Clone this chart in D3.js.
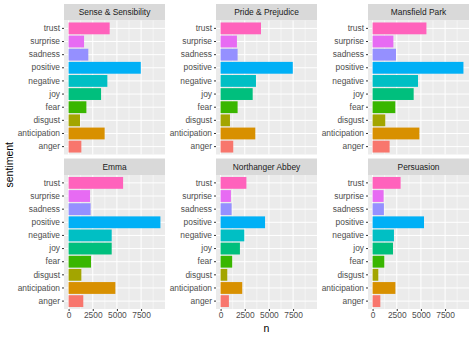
<!DOCTYPE html>
<html>
<head>
<meta charset="utf-8">
<script src="https://cdn.jsdelivr.net/npm/d3@7"></script>
<style>
  body { margin: 0; background: #fff; }
  svg { display: block; }
</style>
</head>
<body>
<div class="chart"></div>
<script>
const w = 474,
      h = 338

// sentiment levels, top of each panel first
const sentiments = ['trust','surprise','sadness','positive','negative','joy','fear','disgust','anticipation','anger']
const books = ['Sense & Sensibility','Pride & Prejudice','Mansfield Park','Emma','Northanger Abbey','Persuasion']

// counts per book, same order as sentiments
const senseSensibility = [4250, 1600, 2040, 7470, 4010, 3360, 1840, 1180, 3730, 1320]
const pridePrejudice   = [4180, 1690, 1760, 7470, 3660, 3320, 1760,  970, 3590, 1310]
const mansfieldPark    = [5570, 2150, 2420, 9400, 4700, 4250, 2350, 1310, 4840, 1760]
const emma             = [5640, 2220, 2280, 9500, 4460, 4460, 2320, 1320, 4840, 1520]
const northangerAbbey  = [2670, 1070, 1140, 4600, 2450, 2000, 1200,  690, 2240,  860]
const persuasion       = [2900, 1140, 1170, 5320, 2210, 2110, 1210,  590, 2360,  800]

const xTicks = [0, 2500, 5000, 7500]
const xMinor = [1250, 3750, 6250, 8750]

const colors = {
  anger: '#F8766D', anticipation: '#D89000', disgust: '#A3A500', fear: '#39B600',
  joy: '#00BF7D', negative: '#00BFC4', positive: '#00B0F6', sadness: '#9590FF',
  surprise: '#E76BF3', trust: '#FF62BC'
}

const series = [senseSensibility, pridePrejudice, mansfieldPark, emma, northangerAbbey, persuasion]

const panelW = 101,
      panelH = 134,
      stripH = 16.5,
      colX = [64, 216, 368],
      rowY = [20.5, 175]

const font = '"Liberation Sans", Arial, Helvetica, sans-serif'

const svg = d3.select('.chart')
              .append('svg')
              .attr('width', w)
              .attr('height', h)
              .style('font-family', font)

const maxN = d3.max(series, (s) => d3.max(s))
const xScale = d3.scaleLinear()
                 .domain([-0.05 * maxN, 1.05 * maxN])
                 .range([0, panelW])
const yScale = d3.scaleBand()
                 .domain(sentiments)
                 .range([0, panelH])
                 .paddingInner(0.1)
                 .paddingOuter(0.15)

books.forEach((book, i) => {
  const col = i % 3,
        row = Math.floor(i / 3)
  const g = svg.append('g')
               .attr('transform', `translate(${colX[col]},${rowY[row]})`)

  // strip
  g.append('rect')
   .attr('x', 0).attr('y', -stripH)
   .attr('width', panelW).attr('height', stripH)
   .attr('fill', '#D9D9D9')
  g.append('text')
   .text(book)
   .attr('x', panelW / 2).attr('y', -stripH / 2)
   .attr('dy', '0.35em')
   .attr('text-anchor', 'middle')
   .attr('font-size', '8.4px')
   .attr('fill', '#1A1A1A')

  // panel background and grid
  g.append('rect')
   .attr('width', panelW).attr('height', panelH)
   .attr('fill', '#EBEBEB')
  g.selectAll('.minor')
   .data(xMinor)
   .enter()
   .append('line')
   .attr('x1', (d) => xScale(d)).attr('x2', (d) => xScale(d))
   .attr('y1', 0).attr('y2', panelH)
   .attr('stroke', '#fff').attr('stroke-width', 0.5)
  g.selectAll('.major')
   .data(xTicks)
   .enter()
   .append('line')
   .attr('x1', (d) => xScale(d)).attr('x2', (d) => xScale(d))
   .attr('y1', 0).attr('y2', panelH)
   .attr('stroke', '#fff').attr('stroke-width', 1)
  g.selectAll('.hgrid')
   .data(sentiments)
   .enter()
   .append('line')
   .attr('x1', 0).attr('x2', panelW)
   .attr('y1', (d) => yScale(d) + yScale.bandwidth() / 2)
   .attr('y2', (d) => yScale(d) + yScale.bandwidth() / 2)
   .attr('stroke', '#fff').attr('stroke-width', 1)

  // bars
  g.selectAll('.bar')
   .data(sentiments.map((s, j) => ({ sentiment: s, n: series[i][j] })))
   .enter()
   .append('rect')
   .attr('x', xScale(0))
   .attr('y', (d) => yScale(d.sentiment))
   .attr('width', (d) => xScale(d.n) - xScale(0))
   .attr('height', yScale.bandwidth())
   .attr('fill', (d) => colors[d.sentiment])

  // y axis
  const yAxis = g.append('g')
                 .call(d3.axisLeft(yScale).tickSize(2).tickPadding(2))
  yAxis.select('.domain').remove()
  yAxis.selectAll('line').attr('stroke', '#333')
  yAxis.selectAll('text')
       .attr('fill', '#4D4D4D')
       .attr('font-size', '8.4px')
       .attr('font-family', font)

  // x axis on the bottom row only
  if (row === 1) {
    const xAxis = g.append('g')
                   .attr('transform', `translate(0,${panelH})`)
                   .call(d3.axisBottom(xScale).tickValues(xTicks).tickFormat(d3.format('d')).tickSize(2).tickPadding(1.5))
    xAxis.select('.domain').remove()
    xAxis.selectAll('line').attr('stroke', '#333')
    xAxis.selectAll('text')
         .attr('fill', '#4D4D4D')
         .attr('font-size', '8.4px')
         .attr('font-family', font)
  }
})

// axis titles
svg.append('text')
   .text('n')
   .attr('x', (colX[0] + colX[2] + panelW) / 2)
   .attr('y', 332)
   .attr('text-anchor', 'middle')
   .attr('font-size', '10.5px')
   .attr('fill', '#000')
svg.append('text')
   .text('sentiment')
   .attr('transform', `translate(12.5,${(rowY[0] + rowY[1] + panelH) / 2}) rotate(-90)`)
   .attr('text-anchor', 'middle')
   .attr('font-size', '10.5px')
   .attr('fill', '#000')
</script>
</body>
</html>
